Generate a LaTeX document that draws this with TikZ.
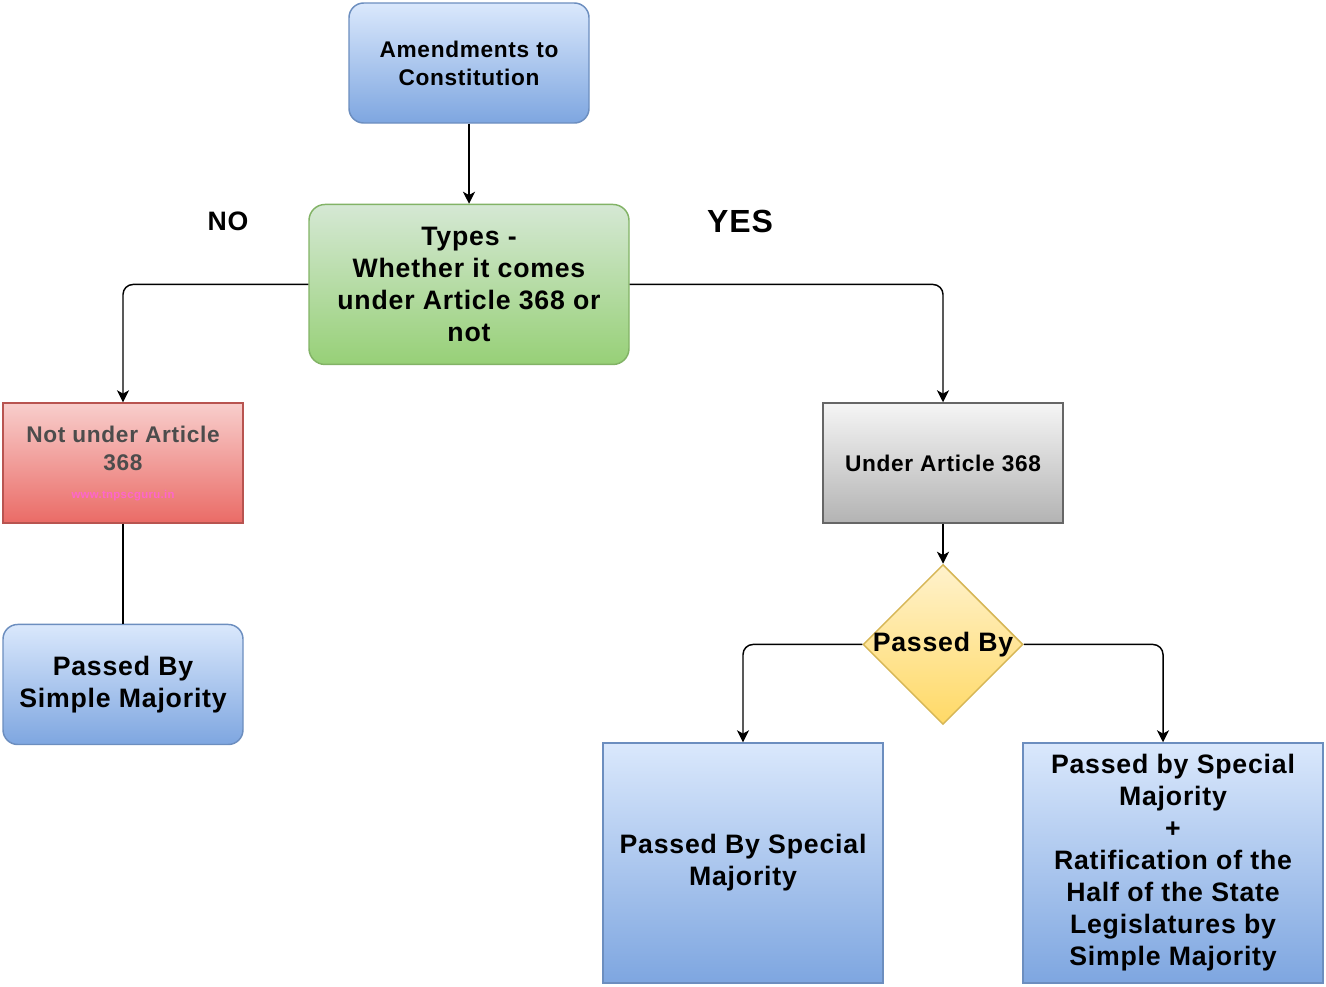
\documentclass[tikz,border=0pt]{standalone}
\usepackage{fontspec}
\setmainfont{Liberation Sans}[LetterSpace=3]
\usepackage{tikz}
\usetikzlibrary{shapes.geometric, arrows.meta, positioning}

\definecolor{blueT}{HTML}{DAE8FC}
\definecolor{blueB}{HTML}{7EA6E0}
\definecolor{blueD}{HTML}{6C8EBF}
\definecolor{greenT}{HTML}{D5E8D4}
\definecolor{greenB}{HTML}{97D077}
\definecolor{greenD}{HTML}{82B366}
\definecolor{redT}{HTML}{F8CECC}
\definecolor{redB}{HTML}{EA6B66}
\definecolor{redD}{HTML}{B85450}
\definecolor{grayT}{HTML}{F5F5F5}
\definecolor{grayB}{HTML}{B3B3B3}
\definecolor{grayD}{HTML}{666666}
\definecolor{yelT}{HTML}{FFF2CC}
\definecolor{yelB}{HTML}{FFD966}
\definecolor{yelD}{HTML}{D6B656}
\definecolor{wmark}{HTML}{FF66CC}

\tikzset{
  block/.style={rectangle, draw=blueD, line width=1.1pt, top color=blueT,
                bottom color=blueB, rounded corners=11pt, align=center,
                minimum width=180pt, minimum height=90pt, inner sep=0pt,
                font=\bfseries\fontsize{17}{21}\selectfont},
  blockBig/.style={block, font=\bfseries\fontsize{20}{24}\selectfont},
  blockG/.style={blockBig, draw=greenD, top color=greenT, bottom color=greenB,
                 minimum width=240pt, minimum height=120pt, rounded corners=12pt},
  blockR/.style={block, draw=redD, top color=redT, bottom color=redB,
                 rounded corners=0pt, text=black!70},
  blockGr/.style={block, draw=grayD, top color=grayT, bottom color=grayB,
                  rounded corners=0pt},
  blockSq/.style={blockBig, rounded corners=0pt, minimum height=180pt},
  decision/.style={diamond, draw=yelD, line width=1.1pt, top color=yelT,
                   bottom color=yelB, aspect=1, inner sep=0pt,
                   minimum width=120pt, minimum height=120pt,
                   font=\bfseries\fontsize{20}{24}\selectfont},
  answer/.style={font=\bfseries\fontsize{20}{24}\selectfont},
  arrow/.style={-{Stealth[length=9pt, width=9pt, inset=2.5pt]}, line width=1.1pt,
                rounded corners=7.5pt},
  link/.style={line width=1.1pt},
}

\begin{document}
\begin{tikzpicture}[x=0.75pt, y=-0.75pt]

  \useasboundingbox (0,0) rectangle (1326,986);

  \node[block] (amend) at (469,63) {Amendments to\\Constitution};
  \node[blockG, below=60pt of amend] (types) {Types -\\Whether it comes\\under Article 368 or\\not};

  \node[answer] (no)  at (228,221) {NO};
  \node[answer, font=\bfseries\fontsize{24}{28}\selectfont] (yes) at (740,221) {YES};

  \node[blockR] (notunder) at (123,463)
    {Not under Article\\368\\{\color{wmark}\fontsize{8.5}{10}\selectfont www.tnpscguru.in}};
  \node[blockBig, below=75pt of notunder] (simple) {Passed By\\Simple Majority};

  \node[blockGr] (under) at (943,463) {Under Article 368};
  \node[decision, below=30pt of under] (pass) {\makebox[0pt]{Passed By}};

  \node[blockSq, minimum width=210pt] (special) at (743,863) {Passed By Special\\Majority};
  \node[blockSq, minimum width=225pt] (ratify) at (1173,863)
    {Passed by Special\\Majority\\+\\Ratification of the\\Half of the State\\Legislatures by\\Simple Majority};

  \draw[arrow] (amend) -- (types);
  \draw[arrow] (types.west) -| (notunder.north);
  \draw[arrow] (types.east) -| (under.north);
  \draw[link]  (notunder) -- (simple);
  \draw[arrow] (under) -- (pass);
  \draw[arrow] (pass.west) -| (special.north);
  \draw[arrow] (pass.east) -| ([xshift=-7.5pt]ratify.north);

\end{tikzpicture}
\end{document}
